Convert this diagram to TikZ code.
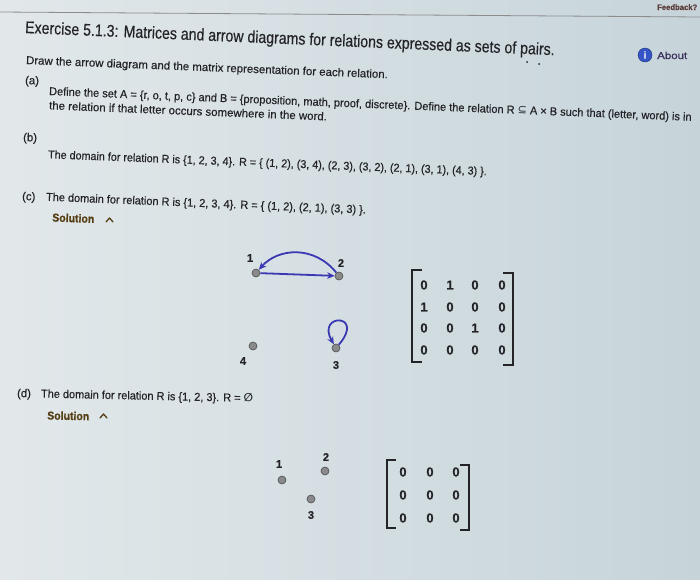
\documentclass[tikz,border=0pt]{standalone}
\usepackage{fontspec}
\setmainfont{Liberation Sans}[RawFeature={embolden=0.5}]
\newfontfamily\symf{DejaVu Sans}
\usepackage{graphicx}
\usetikzlibrary{arrows.meta}
\definecolor{bgL}{RGB}{226,232,234}
\definecolor{bgR}{RGB}{198,212,218}
\definecolor{ink}{RGB}{36,36,40}
\definecolor{sol}{RGB}{84,62,20}
\definecolor{arrowblue}{RGB}{58,56,178}
\definecolor{dotfill}{RGB}{138,138,138}
\definecolor{iblue}{RGB}{52,84,200}
\definecolor{about}{RGB}{58,46,90}
\definecolor{feed}{RGB}{92,62,58}
\newcommand\fitw[2]{\resizebox{#1pt}{\height}{#2}}
\begin{document}
\begin{tikzpicture}[x=1pt,y=-1pt,
  txt/.style={anchor=base west, inner sep=0pt, outer sep=0pt, text=ink},
  body/.style={txt, font=\fontsize{11.4}{14}\selectfont},
  soltxt/.style={anchor=base west, inner sep=0pt, text=sol, font=\bfseries\fontsize{11.5}{14}\selectfont},
  vert/.style={circle, draw=black!70, fill=dotfill, line width=0.6pt, minimum size=8pt, inner sep=0pt},
  vlabel/.style={inner sep=0pt, font=\bfseries\fontsize{11}{13}\selectfont, text=ink},
  entry/.style={inner sep=0pt, font=\bfseries\fontsize{13}{15}\selectfont, text=ink},
  rel/.style={draw=arrowblue, line width=1.8pt, -{Stealth[length=7.5pt,width=6.5pt]}},
  brk/.style={draw=ink, line width=1.4pt},
  caret/.style={draw=sol, line width=1.3pt, line cap=round, line join=round}]
\useasboundingbox (0,0) rectangle (700,579);
\shade[left color=bgL, right color=bgR] (0,0) rectangle (700,579);
\draw[black!45, line width=0.8pt] (0,12) -- (700,17);

% header
\node[anchor=base west, inner sep=0pt, text=feed, font=\bfseries\fontsize{8}{9}\selectfont] (feedback) at (657,10) {\fitw{40}{Feedback?}};
\node[circle, fill=iblue, draw=iblue!60!black, minimum size=14pt, inner sep=0pt, text=white, font=\bfseries\fontsize{10}{10}\selectfont] (abouticon) at (645,55) {i};
\node[anchor=base west, inner sep=0pt, text=about, font=\fontsize{10}{12}\selectfont] (abouttxt) at (657,59) {\fitw{30}{About}};

\node[txt, rotate=-2.4, font=\fontsize{16.8}{20}\selectfont] (title) at (25,33) {\fitw{530}{Exercise 5.1.3: Matrices and arrow diagrams for relations expressed as sets of pairs.}};
\fill[ink] (527,62) circle (1pt) (539,64) circle (1pt);
\node[body, rotate=-2.25] (drawline) at (26,64) {\fitw{362}{Draw the arrow diagram and the matrix representation for each relation.}};

% (a)
\node[body, rotate=-2.3] (pa) at (25,84) {(a)};
\node[body, rotate=-2.3] (atext1) at (49,95) {\fitw{643}{Define the set A = \{r, o, t, p, c\} and B = \{proposition, math, proof, discrete\}. Define the relation R {\symf ⊆} A × B such that (letter, word) is in}};
\node[body, rotate=-2.3] (atext2) at (49,109.3) {\fitw{278}{the relation if that letter occurs somewhere in the word.}};

% (b)
\node[body, rotate=-2.2] (pb) at (23,141) {(b)};
\node[body, rotate=-2.2] (btext) at (48,158.3) {\fitw{439}{The domain for relation R is \{1, 2, 3, 4\}. R = \{ (1, 2), (3, 4), (2, 3), (3, 2), (2, 1), (3, 1), (4, 3) \}.}};

% (c)
\node[body, rotate=-2.3] (pc) at (22,200) {(c)};
\node[body, rotate=-2.3] (ctext) at (46,200.7) {\fitw{320}{The domain for relation R is \{1, 2, 3, 4\}. R = \{ (1, 2), (2, 1), (3, 3) \}.}};
\node[soltxt, rotate=-2] (solc) at (52,221.5) {\fitw{42}{Solution}};
\draw[caret] (106,222) -- (109.5,218) -- (113,222);

% (c) arrow diagram
\node[vert] (c1) at (256,273) {};
\node[vert] (c2) at (339,276) {};
\node[vert] (c3) at (336,348) {};
\node[vert] (c4) at (253,346) {};
\node[vlabel] (c1l) at (250,258) {1};
\node[vlabel] (c2l) at (341,263) {2};
\node[vlabel] (c3l) at (336,365) {3};
\node[vlabel] (c4l) at (243,361) {4};
\draw[rel] (c1) -- (c2);
\draw[rel] (c2) .. controls (314,245) and (278,248) .. (c1);
\draw[rel] (c3) .. controls (366,313) and (316,313) .. (c3);

% (c) matrix
\draw[brk] (422,270) -- (412,270) -- (412,362) -- (422,362);
\draw[brk] (503,273) -- (513,273) -- (513,365) -- (503,365);
\node[entry] (mc11) at (424,285) {0};
\node[entry] (mc12) at (450,285) {1};
\node[entry] (mc13) at (475,285) {0};
\node[entry] (mc14) at (502,285) {0};
\node[entry] (mc21) at (424,307) {1};
\node[entry] (mc22) at (450,307) {0};
\node[entry] (mc23) at (475,307) {0};
\node[entry] (mc24) at (502,307) {0};
\node[entry] (mc31) at (424,328) {0};
\node[entry] (mc32) at (450,328) {0};
\node[entry] (mc33) at (475,328) {1};
\node[entry] (mc34) at (502,328) {0};
\node[entry] (mc41) at (424,350) {0};
\node[entry] (mc42) at (450,350) {0};
\node[entry] (mc43) at (475,350) {0};
\node[entry] (mc44) at (502,350) {0};

% (d)
\node[body, rotate=-1.2] (pd) at (17,397) {(d)};
\node[body, rotate=-1.2] (dtext) at (41,397.5) {\fitw{212}{The domain for relation R is \{1, 2, 3\}. R = {\symf\bfseries ∅}}};
\node[soltxt, rotate=-1] (sold) at (47,419.5) {\fitw{42}{Solution}};
\draw[caret] (100,418) -- (103.5,414) -- (107,418);

\node[vert] (d1) at (282,480) {};
\node[vert] (d2) at (325,471) {};
\node[vert] (d3) at (311,499) {};
\node[vlabel] (d1l) at (279,464) {1};
\node[vlabel] (d2l) at (326,457) {2};
\node[vlabel] (d3l) at (311,515) {3};

\draw[brk] (396,460) -- (387,460) -- (387,528) -- (396,528);
\draw[brk] (460,465) -- (469,465) -- (469,530) -- (460,530);
\node[entry] (md11) at (403,472) {0};
\node[entry] (md12) at (430,472) {0};
\node[entry] (md13) at (456,472) {0};
\node[entry] (md21) at (403,495) {0};
\node[entry] (md22) at (430,495) {0};
\node[entry] (md23) at (456,495) {0};
\node[entry] (md31) at (403,518) {0};
\node[entry] (md32) at (430,518) {0};
\node[entry] (md33) at (456,518) {0};
\end{tikzpicture}
\end{document}
